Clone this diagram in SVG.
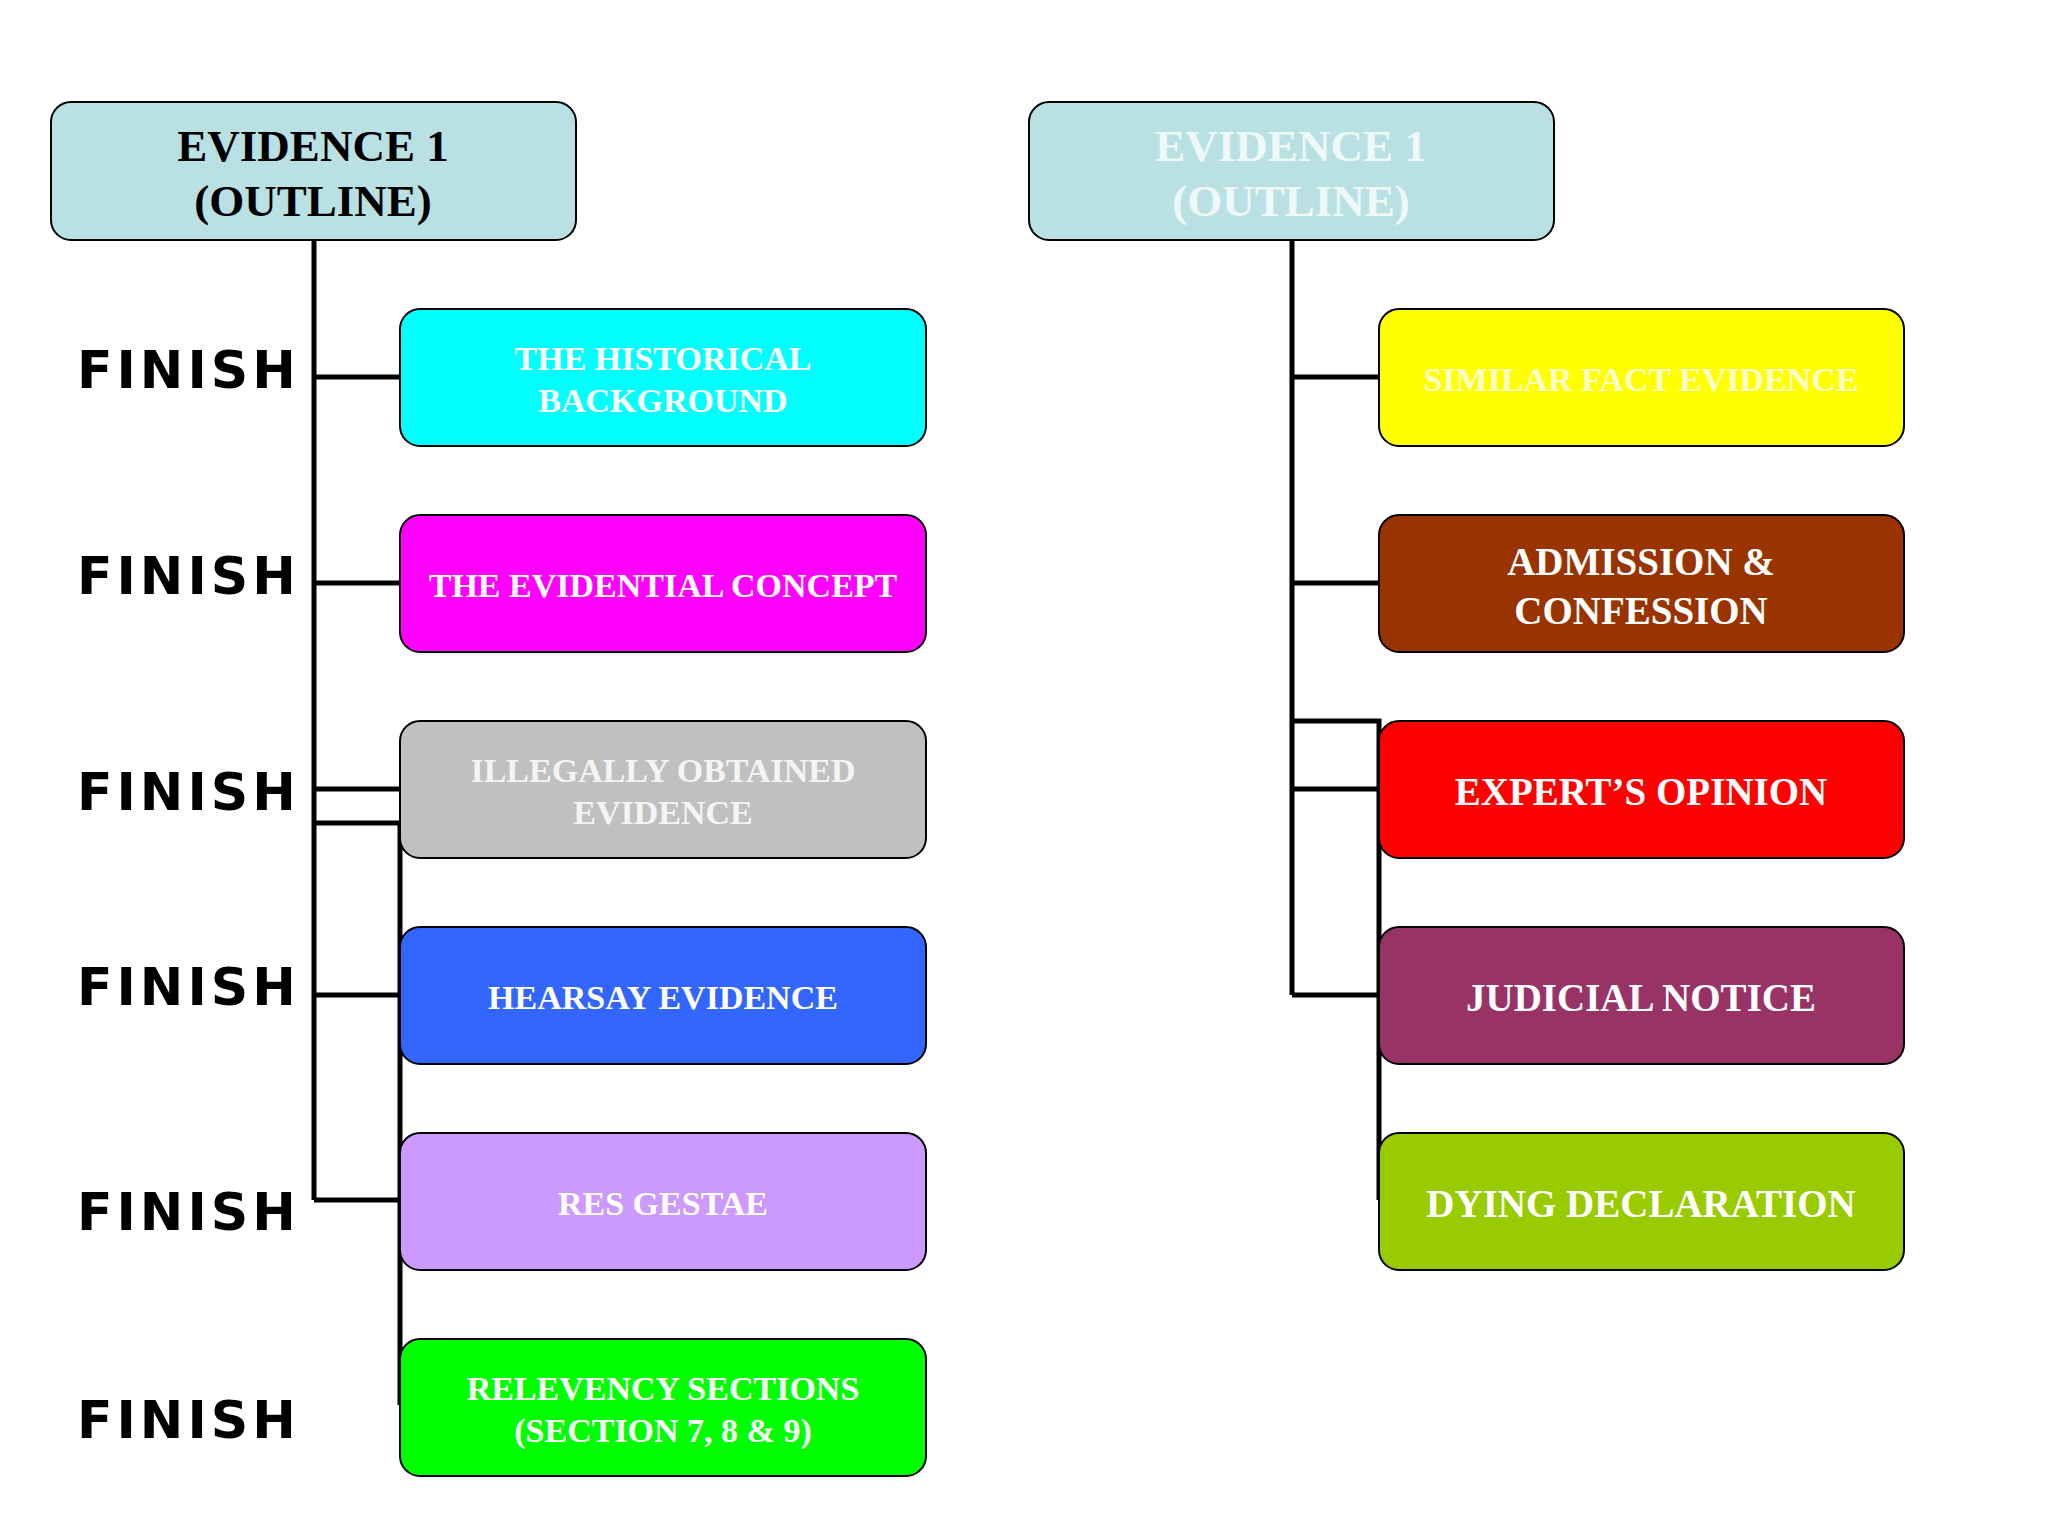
<svg xmlns="http://www.w3.org/2000/svg" width="2048" height="1536" viewBox="0 0 2048 1536">
<style>
.b{stroke:#000;stroke-width:2}
.t{font-family:"Liberation Serif",serif;font-weight:bold;text-anchor:middle;fill:#fff}
.f{font-family:"DejaVu Sans",sans-serif;font-weight:900;font-size:52px;letter-spacing:4px;fill:#000}
.c{fill:none;stroke:#000;stroke-width:5}
</style>
<rect width="2048" height="1536" fill="#fff"/>
<g id="conn">
<path class="c" d="M314 240V1200M314 377H400M314 583H400M314 789H400M314 995H400M314 1200H400M314 823H400V1405"/>
<path class="c" d="M1292 240V995M1292 377H1379M1292 583H1379M1292 789H1379M1292 995H1379M1292 721H1379V1200"/>
</g>
<g id="h1"><rect class="b" x="51" y="102" width="525" height="138" rx="20" fill="#b9e1e3"/><text class="t" font-size="45" fill="#000" style="fill:#000"><tspan x="313" y="161">EVIDENCE 1</tspan><tspan x="313" y="216">(OUTLINE)</tspan></text></g>
<g id="h2"><rect class="b" x="1029" y="102" width="525" height="138" rx="20" fill="#b9e1e3"/><text class="t" font-size="45" style="fill:#eef8f8"><tspan x="1291" y="161">EVIDENCE 1</tspan><tspan x="1291" y="216">(OUTLINE)</tspan></text></g>
<g id="fin"><text class="f" x="77" y="388">FINISH</text><text class="f" x="77" y="594">FINISH</text><text class="f" x="77" y="810">FINISH</text><text class="f" x="77" y="1005">FINISH</text><text class="f" x="77" y="1230">FINISH</text><text class="f" x="77" y="1438">FINISH</text></g>
<g id="n1"><rect class="b" x="400" y="309" width="526" height="137" rx="20" fill="#00ffff"/><text class="t" font-size="34"><tspan x="663" y="370">THE HISTORICAL</tspan><tspan x="663" y="412">BACKGROUND</tspan></text></g>
<g id="n2"><rect class="b" x="400" y="515" width="526" height="137" rx="20" fill="#ff00ff"/><text class="t" font-size="34" x="663" y="597">THE EVIDENTIAL CONCEPT</text></g>
<g id="n3"><rect class="b" x="400" y="721" width="526" height="137" rx="20" fill="#c0c0c0"/><text class="t" font-size="34" style="fill:#f4f4f4"><tspan x="663" y="782">ILLEGALLY OBTAINED</tspan><tspan x="663" y="824">EVIDENCE</tspan></text></g>
<g id="n4"><rect class="b" x="400" y="927" width="526" height="137" rx="20" fill="#3366ff"/><text class="t" font-size="34" x="663" y="1009">HEARSAY EVIDENCE</text></g>
<g id="n5"><rect class="b" x="400" y="1133" width="526" height="137" rx="20" fill="#cc99ff"/><text class="t" font-size="34" x="663" y="1215">RES GESTAE</text></g>
<g id="n6"><rect class="b" x="400" y="1339" width="526" height="137" rx="20" fill="#00ff00"/><text class="t" font-size="34"><tspan x="663" y="1400">RELEVENCY SECTIONS</tspan><tspan x="663" y="1442">(SECTION 7, 8 &amp; 9)</tspan></text></g>
<g id="r1"><rect class="b" x="1379" y="309" width="525" height="137" rx="20" fill="#ffff00"/><text class="t" font-size="34" style="fill:#ffffcc" x="1641" y="391">SIMILAR FACT EVIDENCE</text></g>
<g id="r2"><rect class="b" x="1379" y="515" width="525" height="137" rx="20" fill="#993300"/><text class="t" font-size="39"><tspan x="1641" y="575">ADMISSION &amp;</tspan><tspan x="1641" y="624">CONFESSION</tspan></text></g>
<g id="r3"><rect class="b" x="1379" y="721" width="525" height="137" rx="20" fill="#ff0000"/><text class="t" font-size="39" x="1641" y="805">EXPERT’S OPINION</text></g>
<g id="r4"><rect class="b" x="1379" y="927" width="525" height="137" rx="20" fill="#993366"/><text class="t" font-size="39" x="1641" y="1011">JUDICIAL NOTICE</text></g>
<g id="r5"><rect class="b" x="1379" y="1133" width="525" height="137" rx="20" fill="#99cc00"/><text class="t" font-size="39" x="1641" y="1217">DYING DECLARATION</text></g>
</svg>
